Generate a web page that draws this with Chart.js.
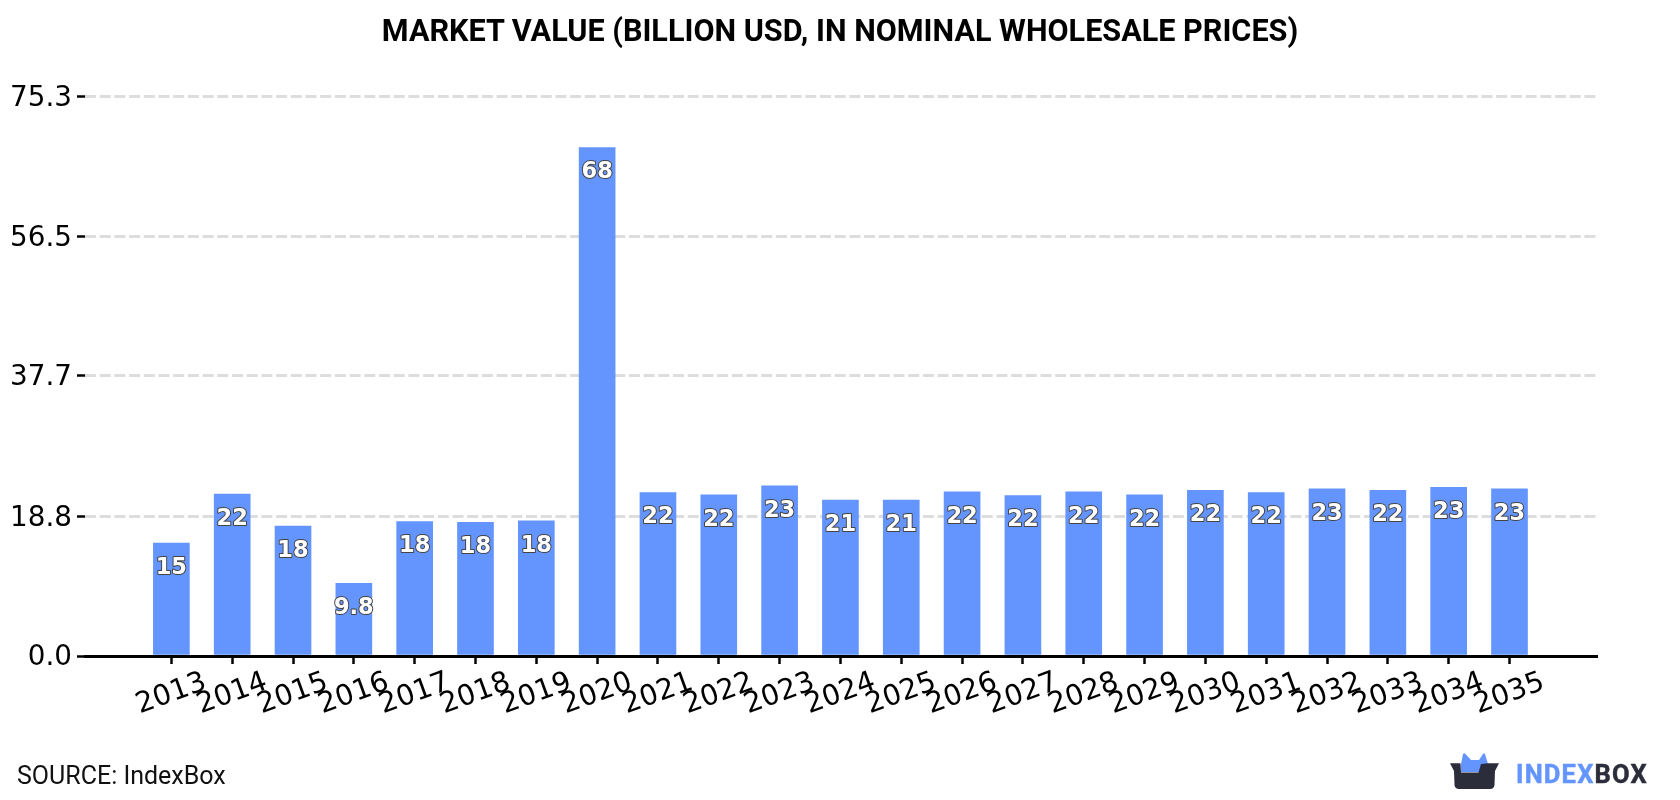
<!DOCTYPE html>
<html>
<head>
<meta charset="utf-8">
<title>Market Value</title>
<script src="https://cdn.jsdelivr.net/npm/chart.js@4"></script>
<style>
    html, body { margin: 0; padding: 0; background: #fff; }
    #wrap { position: relative; width: 1680px; height: 800px; overflow: hidden; }
    #title { position: absolute; left: 0; width: 1680px; top: 13px; text-align: center; font: bold 30.6px/36px Roboto, sans-serif; color: #000; }
    #source { position: absolute; left: 17px; top: 761px; font: 25px Roboto, sans-serif; color: #111; }
    #logo { position: absolute; left: 1450px; top: 752px; }
    #brand { position: absolute; left: 1516px; top: 759px; font: bold 25.5px Roboto, sans-serif; letter-spacing: 1.2px; -webkit-text-stroke: 0.5px; color: #2b2d3b; }
    #brand span { color: #6495ff; }
</style>
</head>
<body>
<div id="wrap">
    <canvas id="marketChart" width="1680" height="800"></canvas>
    <div id="title">MARKET VALUE (BILLION USD, IN NOMINAL WHOLESALE PRICES)</div>
    <div id="source">SOURCE: IndexBox</div>
    <svg id="logo" width="50" height="38" viewBox="0 0 50 38">
        <path d="M11 12 L13 2 Q14 0.5 15.5 2 L21 8 L29 8 L33 2 Q34 0.5 35 2 L38 12 L30 20 L11 20 Z" fill="#6495ff"/>
        <path d="M0 11.3 L10.5 11.3 L11 20.5 L28.5 20.5 L31 12 L38 11.3 L49 11.3 L45 19 L44.5 33 Q44 37 40 37 L9 37 Q5 37 4.5 33 L4 19 Z" fill="#2b2d3b"/>
    </svg>
    <div id="brand"><span>INDEX</span>BOX</div>
</div>
<script>
// Market value by year, billion USD
const years = [2013, 2014, 2015, 2016, 2017, 2018, 2019, 2020, 2021, 2022, 2023, 2024,
    2025, 2026, 2027, 2028, 2029, 2030, 2031, 2032, 2033, 2034, 2035];
const marketValues = [15.2, 21.8, 17.5, 9.8, 18.1, 18.0, 18.2, 68.45, 22.0, 21.7, 22.9, 21.0,
    21.0, 22.1, 21.6, 22.1, 21.7, 22.3, 22.0, 22.5, 22.3, 22.7, 22.5];
const valueTicks = [0, 18.8, 37.7, 56.5, 75.3];

const barColor = '#6495ff';

// Two significant digits, the way the bar labels read
function formatValue(v) {
    return v < 10 ? v.toFixed(1) : String(Math.round(v));
}

// Chart.js right-aligns rotated labels and has no baseline option,
// so patch the computed label items of a scale
function adjustLabels(scale, dy, align) {
    if (scale._labelsAdjusted) return;
    scale._labelsAdjusted = true;
    const compute = scale._computeLabelItems;
    scale._computeLabelItems = function (area) {
        const items = compute.call(this, area);
        items.forEach(item => {
            item.options.translation[1] += dy;
            if (align) item.options.textAlign = align;
        });
        return items;
    };
}

// White value labels with a dark outline, hung below the top of each bar
const barLabels = {
    id: 'barLabels',
    afterDatasetsDraw(chart) {
        const ctx = chart.ctx;
        ctx.save();
        ctx.font = "bold 22.5px 'DejaVu Sans'";
        ctx.textAlign = 'center';
        ctx.textBaseline = 'middle';
        ctx.lineJoin = 'round';
        chart.getDatasetMeta(0).data.forEach((bar, i) => {
            const label = formatValue(marketValues[i]);
            ctx.lineWidth = 2;
            ctx.strokeStyle = '#444';
            ctx.strokeText(label, bar.x, bar.y + 25);
            ctx.fillStyle = '#fff';
            ctx.fillText(label, bar.x, bar.y + 25);
        });
        ctx.restore();
    }
};

new Chart(document.getElementById('marketChart').getContext('2d'), {
    type: 'bar',
    data: {
        datasets: [{
            data: years.map((year, i) => ({ x: year, y: marketValues[i] })),
            backgroundColor: barColor,
            borderWidth: 0,
            barThickness: 36
        }]
    },
    options: {
        responsive: false,
        animation: false,
        layout: { autoPadding: false, padding: { left: 0, right: 82.3, top: 96.7, bottom: 0 } },
        plugins: {
            legend: { display: false },
            tooltip: { enabled: false }
        },
        scales: {
            x: {
                type: 'linear',
                offset: false,
                min: 2011.58,
                max: 2036.45,
                afterBuildTicks(scale) {
                    scale.ticks = years.map(year => ({ value: year }));
                    adjustLabels(scale, 0, 'center');
                },
                afterFit(scale) {
                    scale.height = 144;
                },
                border: { color: '#000', width: 3 },
                grid: { offset: false, drawOnChartArea: false, drawTicks: true, tickLength: 8, tickColor: '#000', tickWidth: 2.5 },
                ticks: {
                    autoSkip: false,
                    minRotation: 20,
                    maxRotation: 20,
                    padding: 14,
                    color: '#000',
                    font: { family: "'DejaVu Sans'", size: 28.5 },
                    callback: value => String(value)
                }
            },
            y: {
                min: 0,
                max: 75.3,
                afterBuildTicks(scale) {
                    scale.ticks = valueTicks.map(value => ({ value }));
                    adjustLabels(scale, 2);
                },
                afterFit(scale) {
                    scale.width = 85;
                },
                border: { display: false, dash: [11, 3.7] },
                grid: {
                    color: '#dddddd',
                    lineWidth: 3,
                    tickBorderDash: [],
                    tickLength: 8,
                    tickColor: '#000',
                    tickWidth: 2.5
                },
                ticks: {
                    padding: 5,
                    color: '#000',
                    font: { family: "'DejaVu Sans'", size: 27.8 },
                    callback: value => value.toFixed(1)
                }
            }
        }
    },
    plugins: [barLabels]
});
</script>
</body>
</html>
